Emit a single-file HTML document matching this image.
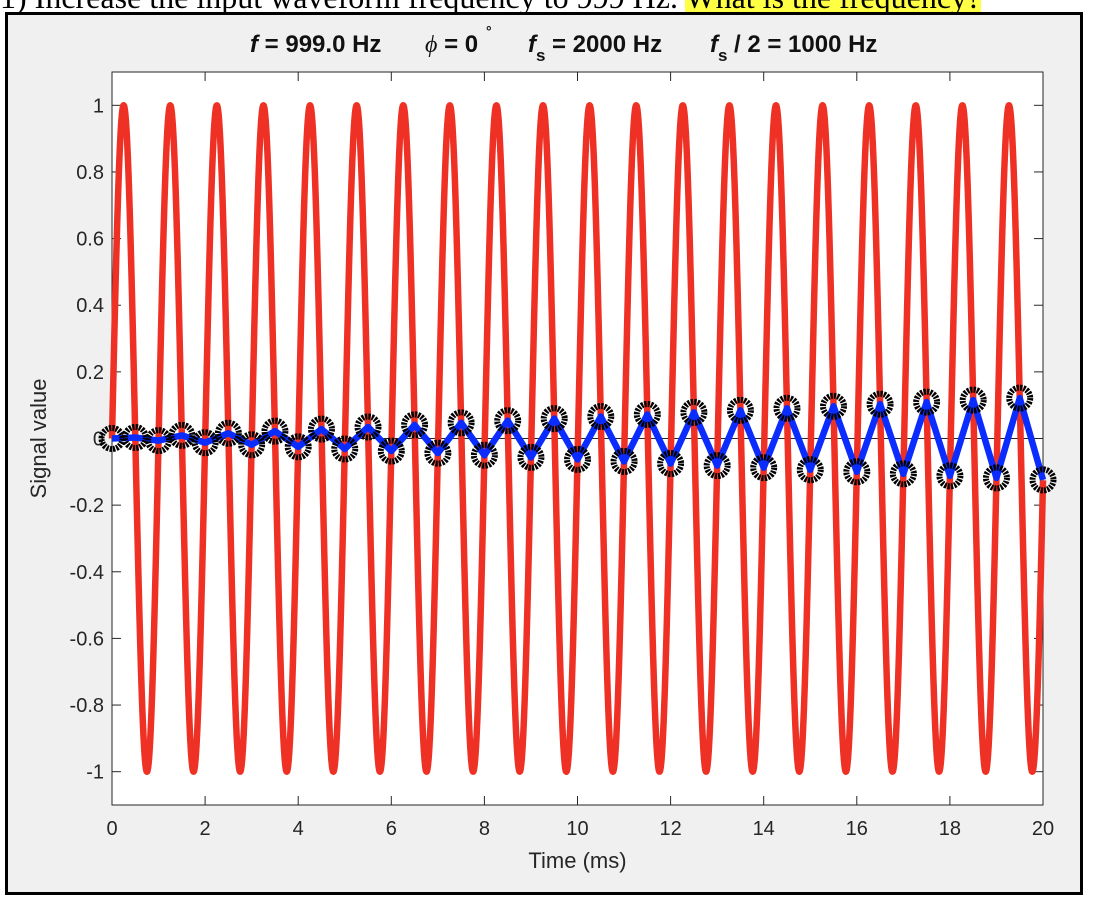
<!DOCTYPE html>
<html><head><meta charset="utf-8"><style>
body{margin:0;width:1100px;height:908px;background:#fff;overflow:hidden;position:relative;font-family:"Liberation Sans",sans-serif}
#top{position:absolute;left:0;top:-21px;font:32px "Liberation Serif",serif;white-space:nowrap;color:#000}
#top span{background:#ffff44}
#frame{position:absolute;left:5px;top:12px;width:1072px;height:877px;border:3px solid #000;background:#f0f0f0}
svg{position:absolute;left:0;top:0}
</style></head><body>
<div id="top">1) Increase the input waveform frequency to 999 Hz. <span>What is the frequency?</span></div>
<div id="frame"></div>
<svg id="chart" width="1100" height="908"></svg>
<script>
const signalFreqKHz=[0.999];
const signalPhase=[0];
const sampleTimes=[0,0.5,1,1.5,2,2.5,3,3.5,4,4.5,5,5.5,6,6.5,7,7.5,8,8.5,9,9.5,10,10.5,11,11.5,12,12.5,13,13.5,14,14.5,15,15.5,16,16.5,17,17.5,18,18.5,19,19.5,20];
const sampleValues=[0,0.0031,-0.0063,0.0094,-0.0126,0.0157,-0.0188,0.0220,-0.0251,0.0283,-0.0314,0.0345,-0.0377,0.0408,-0.0440,0.0471,-0.0502,0.0533,-0.0565,0.0596,-0.0628,0.0659,-0.0690,0.0721,-0.0752,0.0783,-0.0814,0.0845,-0.0876,0.0907,-0.0938,0.0968,-0.0999,0.1030,-0.1060,0.1091,-0.1121,0.1152,-0.1182,0.1212,-0.1243];
const xTicks=[0,2,4,6,8,10,12,14,16,18,20];
const yTicks=[-1,-0.8,-0.6,-0.4,-0.2,0,0.2,0.4,0.6,0.8,1];
const L=112,R=1043,T=72,B=805,xmin=0,xmax=20,ymin=-1.1,ymax=1.1;
const X=v=>L+(v-xmin)/(xmax-xmin)*(R-L);
const Y=v=>B-(v-ymin)/(ymax-ymin)*(B-T);
const svg=document.getElementById('chart');const NS='http://www.w3.org/2000/svg';
function mk(t,a,p){const e=document.createElementNS(NS,t);for(const k in a)e.setAttribute(k,a[k]);(p||svg).appendChild(e);return e;}
const bg=mk('rect',{x:L,y:T,width:R-L,height:B-T,fill:'#fff',stroke:'#262626','stroke-width':1});


const gx=mk('g',{});


xTicks.forEach(v=>{mk('line',{x1:X(v),x2:X(v),y1:B,y2:B-9,stroke:'#262626'},gx);mk('line',{x1:X(v),x2:X(v),y1:T,y2:T+9,stroke:'#262626'},gx);
const t=mk('text',{x:X(v),y:B+30,'text-anchor':'middle','font-size':20,fill:'#262626'},gx);t.textContent=v;

});
const gy=mk('g',{});


yTicks.forEach(v=>{mk('line',{x1:L,x2:L+9,y1:Y(v),y2:Y(v),stroke:'#262626'},gy);mk('line',{x1:R,x2:R-9,y1:Y(v),y2:Y(v),stroke:'#262626'},gy);
const t=mk('text',{x:L-8,y:Y(v)+7,'text-anchor':'end','font-size':20,fill:'#262626'},gy);t.textContent=(Math.abs(v)<1e-9?0:v);

});
const zl=mk('line',{x1:L,x2:R,y1:Y(0),y2:Y(0),stroke:'#262626','stroke-width':1});


let d='';const N=4000;
for(let i=0;i<=N;i++){const t=xmin+(xmax-xmin)*i/N;const v=Math.sin(2*Math.PI*signalFreqKHz[0]*t+signalPhase[0]*Math.PI/180);d+=(i?'L':'M')+X(t).toFixed(2)+','+Y(v).toFixed(2);}
const red=mk('path',{d:d,fill:'none',stroke:'#ee3124','stroke-width':6.5,'stroke-linejoin':'round'});


let d2='';sampleTimes.forEach((t,i)=>{d2+=(i?'L':'M')+X(t)+','+Y(sampleValues[i]);});
const blue=mk('path',{d:d2,fill:'none',stroke:'#0a2cff','stroke-width':6.5,'stroke-linejoin':'round'});


sampleTimes.forEach((t,i)=>{const c=mk('circle',{cx:X(t),cy:Y(sampleValues[i]),r:10.5,fill:'none',stroke:'#000','stroke-width':6,'stroke-dasharray':'2.2 1.1'});

});
const xl=mk('text',{x:(L+R)/2,y:B+63,'text-anchor':'middle','font-size':22,fill:'#262626'});xl.textContent='Time (ms)';


const yl=mk('text',{x:0,y:0,'text-anchor':'middle','font-size':22,fill:'#262626',transform:`translate(46,${(T+B)/2}) rotate(-90)`});yl.textContent='Signal value';


</script>
<svg width="1100" height="908" style="position:absolute;left:0;top:0">
<g font-size="24" font-weight="bold" fill="#111" font-family="Liberation Sans, sans-serif">
<text x="250" y="52"><tspan font-style="italic">f</tspan> = 999.0 Hz</text>
<text x="425" y="52"><tspan font-style="italic" font-weight="normal" font-family="Liberation Serif, serif">ϕ</tspan> = 0</text>
<text x="486" y="36" font-size="14">°</text>
<text x="528" y="52"><tspan font-style="italic">f</tspan></text>
<text x="536" y="61" font-size="17">s</text>
<text x="552" y="52">= 2000 Hz</text>
<text x="710" y="52"><tspan font-style="italic">f</tspan></text>
<text x="718" y="61" font-size="17">s</text>
<text x="734" y="52">/ 2 = 1000 Hz</text>
</g>
</svg>
</body></html>
